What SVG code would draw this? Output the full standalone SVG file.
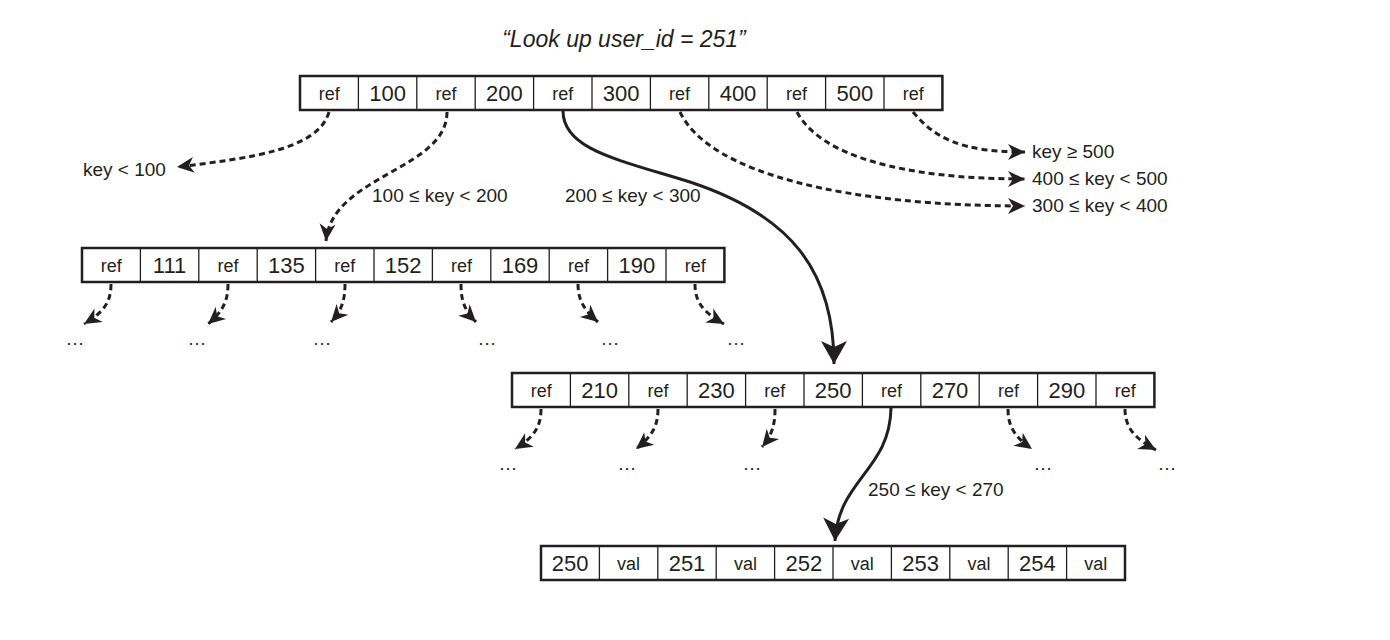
<svg xmlns="http://www.w3.org/2000/svg" width="1390" height="640" viewBox="0 0 1390 640">
<style>
  .box{fill:#fff;stroke:#231f20;stroke-width:2.5}
  .div{stroke:#231f20;stroke-width:1.3}
  .num{font-family:"Liberation Sans",Arial,sans-serif;font-size:22px;fill:#231f20;text-anchor:middle}
  .ref{font-family:"Liberation Sans",Arial,sans-serif;font-size:18px;fill:#231f20;text-anchor:middle}
  .lbl{font-family:"Liberation Sans",Arial,sans-serif;font-size:19px;fill:#231f20}
  .dots{font-family:"Liberation Sans",Arial,sans-serif;font-size:19px;fill:#231f20;text-anchor:middle}
  .title{font-family:"Liberation Sans",Arial,sans-serif;font-size:23px;font-style:italic;fill:#231f20;text-anchor:middle}
  .dash{fill:none;stroke:#231f20;stroke-width:3;stroke-dasharray:6 4}
  .solid{fill:none;stroke:#231f20;stroke-width:3}
</style>
<defs>
  <marker id="ah" markerUnits="userSpaceOnUse" markerWidth="18" markerHeight="16" refX="17" refY="8" orient="auto" overflow="visible">
    <path d="M0,0 L17,8 L0,16 L5,8 z" fill="#231f20"/>
  </marker>
  <marker id="ahBig" markerUnits="userSpaceOnUse" markerWidth="24" markerHeight="26" refX="23" refY="13" orient="auto" overflow="visible">
    <path d="M0,0 L23,13 L0,26 L6,13 z" fill="#231f20"/>
  </marker>
</defs>
<rect width="1390" height="640" fill="#fff"/>

<text class="title" x="624" y="47">“Look up user_id = 251”</text>

<g id="root-node">
  <rect class="box" x="300" y="76" width="642.4" height="34"/>
  <g class="div">
    <line x1="358.4" y1="76" x2="358.4" y2="110"/><line x1="416.8" y1="76" x2="416.8" y2="110"/>
    <line x1="475.2" y1="76" x2="475.2" y2="110"/><line x1="533.6" y1="76" x2="533.6" y2="110"/>
    <line x1="592" y1="76" x2="592" y2="110"/><line x1="650.4" y1="76" x2="650.4" y2="110"/>
    <line x1="708.8" y1="76" x2="708.8" y2="110"/><line x1="767.2" y1="76" x2="767.2" y2="110"/>
    <line x1="825.6" y1="76" x2="825.6" y2="110"/><line x1="884" y1="76" x2="884" y2="110"/>
  </g>
  <text class="ref" x="329.2" y="100">ref</text><text class="num" x="387.6" y="101">100</text>
  <text class="ref" x="446" y="100">ref</text><text class="num" x="504.4" y="101">200</text>
  <text class="ref" x="562.8" y="100">ref</text><text class="num" x="621.2" y="101">300</text>
  <text class="ref" x="679.6" y="100">ref</text><text class="num" x="738" y="101">400</text>
  <text class="ref" x="796.4" y="100">ref</text><text class="num" x="854.8" y="101">500</text>
  <text class="ref" x="913.2" y="100">ref</text>
</g>

<g id="inner-node-left">
  <rect class="box" x="82" y="248" width="642.4" height="34"/>
  <g class="div">
    <line x1="140.4" y1="248" x2="140.4" y2="282"/><line x1="198.8" y1="248" x2="198.8" y2="282"/>
    <line x1="257.2" y1="248" x2="257.2" y2="282"/><line x1="315.6" y1="248" x2="315.6" y2="282"/>
    <line x1="374" y1="248" x2="374" y2="282"/><line x1="432.4" y1="248" x2="432.4" y2="282"/>
    <line x1="490.8" y1="248" x2="490.8" y2="282"/><line x1="549.2" y1="248" x2="549.2" y2="282"/>
    <line x1="607.6" y1="248" x2="607.6" y2="282"/><line x1="666" y1="248" x2="666" y2="282"/>
  </g>
  <text class="ref" x="111.2" y="272">ref</text><text class="num" x="169.6" y="273">111</text>
  <text class="ref" x="228" y="272">ref</text><text class="num" x="286.4" y="273">135</text>
  <text class="ref" x="344.8" y="272">ref</text><text class="num" x="403.2" y="273">152</text>
  <text class="ref" x="461.6" y="272">ref</text><text class="num" x="520" y="273">169</text>
  <text class="ref" x="578.4" y="272">ref</text><text class="num" x="636.8" y="273">190</text>
  <text class="ref" x="695.2" y="272">ref</text>
</g>

<g id="inner-node-right">
  <rect class="box" x="512" y="373" width="642.4" height="34"/>
  <g class="div">
    <line x1="570.4" y1="373" x2="570.4" y2="407"/><line x1="628.8" y1="373" x2="628.8" y2="407"/>
    <line x1="687.2" y1="373" x2="687.2" y2="407"/><line x1="745.6" y1="373" x2="745.6" y2="407"/>
    <line x1="804" y1="373" x2="804" y2="407"/><line x1="862.4" y1="373" x2="862.4" y2="407"/>
    <line x1="920.8" y1="373" x2="920.8" y2="407"/><line x1="979.2" y1="373" x2="979.2" y2="407"/>
    <line x1="1037.6" y1="373" x2="1037.6" y2="407"/><line x1="1096" y1="373" x2="1096" y2="407"/>
  </g>
  <text class="ref" x="541.2" y="397">ref</text><text class="num" x="599.6" y="398">210</text>
  <text class="ref" x="658" y="397">ref</text><text class="num" x="716.4" y="398">230</text>
  <text class="ref" x="774.8" y="397">ref</text><text class="num" x="833.2" y="398">250</text>
  <text class="ref" x="891.6" y="397">ref</text><text class="num" x="950" y="398">270</text>
  <text class="ref" x="1008.4" y="397">ref</text><text class="num" x="1066.8" y="398">290</text>
  <text class="ref" x="1125.2" y="397">ref</text>
</g>

<g id="leaf-node">
  <rect class="box" x="541" y="546" width="584" height="34"/>
  <g class="div">
    <line x1="599.4" y1="546" x2="599.4" y2="580"/><line x1="657.8" y1="546" x2="657.8" y2="580"/>
    <line x1="716.2" y1="546" x2="716.2" y2="580"/><line x1="774.6" y1="546" x2="774.6" y2="580"/>
    <line x1="833" y1="546" x2="833" y2="580"/><line x1="891.4" y1="546" x2="891.4" y2="580"/>
    <line x1="949.8" y1="546" x2="949.8" y2="580"/><line x1="1008.2" y1="546" x2="1008.2" y2="580"/>
    <line x1="1066.6" y1="546" x2="1066.6" y2="580"/>
  </g>
  <text class="num" x="570.2" y="571">250</text><text class="ref" x="628.6" y="570">val</text>
  <text class="num" x="687" y="571">251</text><text class="ref" x="745.4" y="570">val</text>
  <text class="num" x="803.8" y="571">252</text><text class="ref" x="862.2" y="570">val</text>
  <text class="num" x="920.6" y="571">253</text><text class="ref" x="979" y="570">val</text>
  <text class="num" x="1037.4" y="571">254</text><text class="ref" x="1095.8" y="570">val</text>
</g>

<g id="connectors">
  <path class="dash" marker-end="url(#ah)" d="M329,112 C318,150 250,158 177,167"/>
  <path class="dash" marker-end="url(#ah)" d="M447,112 C447,170 332,175 326,241"/>
  <path class="solid" marker-end="url(#ahBig)" d="M563,111 C563,150 620,160 690,182 C790,215 834,270 834,364"/>
  <path class="dash" marker-end="url(#ah)" d="M680,112 C710,175 850,206 1025,206"/>
  <path class="dash" marker-end="url(#ah)" d="M797,112 C820,155 900,179 1025,179"/>
  <path class="dash" marker-end="url(#ah)" d="M913,112 C935,138 960,152 1025,152"/>

  <path class="dash" marker-end="url(#ah)" d="M111,284 C111,302 104,312 84,324"/>
  <path class="dash" marker-end="url(#ah)" d="M228,284 C228,302 222,312 208,324"/>
  <path class="dash" marker-end="url(#ah)" d="M345,284 C345,300 342,310 331,322"/>
  <path class="dash" marker-end="url(#ah)" d="M461,284 C461,300 464,310 476,322"/>
  <path class="dash" marker-end="url(#ah)" d="M578,284 C578,300 584,310 598,322"/>
  <path class="dash" marker-end="url(#ah)" d="M695,284 C695,302 703,312 724,324"/>

  <path class="dash" marker-end="url(#ah)" d="M541,409 C541,427 534,437 515,449"/>
  <path class="dash" marker-end="url(#ah)" d="M658,409 C658,427 651,437 636,449"/>
  <path class="dash" marker-end="url(#ah)" d="M775,409 C775,425 772,435 762,447"/>
  <path class="dash" marker-end="url(#ah)" d="M1008,409 C1008,427 1015,437 1032,449"/>
  <path class="dash" marker-end="url(#ah)" d="M1125,409 C1125,427 1134,438 1156,450"/>

  <path class="solid" marker-end="url(#ahBig)" d="M891,408 C890,470 838,480 835,541"/>
</g>

<g id="labels">
  <text class="lbl" x="83" y="176">key &lt; 100</text>
  <text class="lbl" x="372" y="202">100 ≤ key &lt; 200</text>
  <text class="lbl" x="565" y="202">200 ≤ key &lt; 300</text>
  <text class="lbl" x="1032" y="158">key ≥ 500</text>
  <text class="lbl" x="1032" y="185">400 ≤ key &lt; 500</text>
  <text class="lbl" x="1032" y="212">300 ≤ key &lt; 400</text>
  <text class="lbl" x="868" y="496">250 ≤ key &lt; 270</text>
</g>

<g id="ellipses">
  <text class="dots" x="75" y="345">…</text>
  <text class="dots" x="197" y="345">…</text>
  <text class="dots" x="322" y="345">…</text>
  <text class="dots" x="487" y="345">…</text>
  <text class="dots" x="610" y="345">…</text>
  <text class="dots" x="736" y="345">…</text>
  <text class="dots" x="508" y="470">…</text>
  <text class="dots" x="627" y="470">…</text>
  <text class="dots" x="752" y="470">…</text>
  <text class="dots" x="1043" y="470">…</text>
  <text class="dots" x="1167" y="470">…</text>
</g>
</svg>
